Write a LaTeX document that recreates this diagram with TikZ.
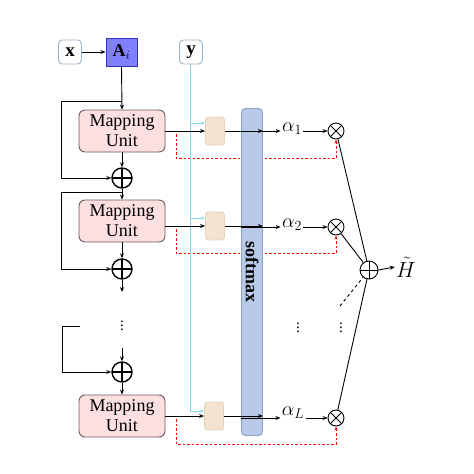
\RequirePackage{fix-cm}
\documentclass[tikz,border=0pt]{standalone}
\usepackage{fontspec}
\setmainfont{Liberation Serif}
\usetikzlibrary{arrows.meta,calc}
\definecolor{inborder}{HTML}{9FB4C8}
\definecolor{afill}{HTML}{8080FF}
\definecolor{aborder}{HTML}{3030C0}
\definecolor{mufill}{HTML}{FCE0E1}
\definecolor{muborder}{HTML}{6A5A5A}
\definecolor{sfill}{HTML}{F3E4D2}
\definecolor{sborder}{HTML}{E6D3BA}
\definecolor{smfill}{HTML}{B8CAE8}
\definecolor{smborder}{HTML}{8AA0C4}
\definecolor{cyanline}{HTML}{86D8EA}
\begin{document}
\begin{tikzpicture}[x=1pt,y=-1pt,
  font=\fontsize{17}{19}\selectfont,
  line width=0.9pt,
  arr/.style={-{Stealth[length=5pt,width=4pt]}},
  inbox/.style={draw=inborder,fill=white,rounded corners=4pt,minimum width=23pt,minimum height=24pt,inner sep=0pt,font=\bfseries\fontsize{19}{21}\selectfont},
  abox/.style={draw=aborder,fill=afill,minimum width=31pt,minimum height=28pt,inner sep=0pt,font=\bfseries\fontsize{18}{20}\selectfont},
  mu/.style={draw=muborder,fill=mufill,rounded corners=6pt,minimum width=86pt,minimum height=42pt,align=center,inner sep=0pt,font=\fontsize{18}{20}\selectfont},
  opl/.style={draw,circle,line width=1.4pt,minimum size=20pt,inner sep=0pt,
    path picture={\draw[line width=1.4pt] (path picture bounding box.north) -- (path picture bounding box.south) (path picture bounding box.west) -- (path picture bounding box.east);}},
  otm/.style={draw,circle,line width=0.9pt,minimum size=16pt,inner sep=0pt,
    path picture={\draw[line width=0.9pt] (path picture bounding box.north west) -- (path picture bounding box.south east) (path picture bounding box.north east) -- (path picture bounding box.south west);}},
  sumc/.style={draw,circle,line width=0.9pt,minimum size=18pt,inner sep=0pt,
    path picture={\draw[line width=0.9pt] (path picture bounding box.north) -- (path picture bounding box.south) (path picture bounding box.west) -- (path picture bounding box.east);}},
  sbox/.style={draw=sborder,fill=sfill,rounded corners=3pt,minimum width=19pt,minimum height=28pt,inner sep=0pt},
  smbox/.style={draw=smborder,fill=smfill,rounded corners=4pt,minimum width=327pt,minimum height=21pt,inner sep=0pt,rotate=-90,font=\bfseries\fontsize{18}{20}\selectfont},
  reddash/.style={draw=red,dash pattern=on 2.5pt off 2pt,line width=0.7pt,-{Stealth[length=4pt,width=3pt]}},
  cyanarr/.style={draw=cyanline,line width=0.9pt,-{Stealth[length=4pt,width=3pt]}},
  dotsn/.style={inner sep=0pt,font=\fontsize{15}{15}\selectfont},
  alab/.style={inner sep=1pt,font=\fontsize{20}{22}\selectfont}
]
\useasboundingbox (0,0) rectangle (474,474);

% inputs
\node[inbox] (x) at (70,52) {x};
\node[abox] (A) at (121.5,52) {A$_i$};
\node[inbox] (y) at (191,52) {y};

% left column
\node[mu] (m1) at (122,131) {Mapping\\Unit};
\node[opl] (p1) at (122,178) {};
\node[mu] (m2) at (122,221) {Mapping\\Unit};
\node[opl] (p2) at (122,269) {};
\node[dotsn] (d1) at (122,323) {$\vdots$};
\node[opl] (p3) at (122,372) {};
\node[mu] (m3) at (122,416) {Mapping\\Unit};

\coordinate (j1) at (122,101);
\coordinate (l1) at (61,101);
\coordinate (j2) at (122,192);
\coordinate (l2) at (61,192);
\coordinate (e2) at (122,292);
\coordinate (b1) at (80,326);
\coordinate (b2) at (62,326);
\coordinate (t3) at (122,348);

\draw[arr] (x) -- (A);
\draw[arr] (A.south) -- (m1.north);
\draw[arr] (j1) -- (l1) |- (p1.west);
\draw[arr] (m1.south) -- (p1.north);
\draw[arr] (p1.south) -- (m2.north);
\draw[arr] (j2) -- (l2) |- (p2.west);
\draw[arr] (m2.south) -- (p2.north);
\draw[arr] (p2.south) -- (e2);
\draw[arr] (b1) -- (b2) |- (p3.west);
\draw[arr] (t3) -- (p3.north);
\draw[arr] (p3.south) -- (m3.north);

% small boxes
\node[sbox] (s1) at (215,131) {};
\node[sbox] (s2) at (215,226) {};
\node[sbox] (s3) at (214,416) {};

% multiplication, labels
\node[alab] (a1) at (292,129) {$\alpha_1$};
\node[alab] (a2) at (292,225) {$\alpha_2$};
\node[alab] (aL) at (293,413) {$\alpha_L$};
\node[otm] (t1) at (336,131) {};
\node[otm] (t2) at (336,227) {};
\node[otm] (tL) at (336,418) {};
\node[sumc] (S) at (369,270) {};
\node[inner sep=1pt,font=\fontsize{22}{24}\selectfont] (H) at (406,267) {$\tilde{H}$};
\node[dotsn] (d2) at (298,325) {$\vdots$};
\node[dotsn] (d3) at (341,325) {$\vdots$};
\coordinate (dl) at (340,306);

% red dashed feedback
\coordinate (r1) at (176,134);
\coordinate (r1b) at (176,158);
\coordinate (r2) at (176,229);
\coordinate (r2b) at (176,253);
\coordinate (r3) at (176,419);
\coordinate (r3b) at (176,444);
\draw[reddash] (r1) -- (r1b) -| (t1.south);
\draw[reddash] (r2) -- (r2b) -| (t2.south);
\draw[reddash] (r3) -- (r3b) -| (tL.south);

% softmax
\node[smbox] (sm) at (252,272) {softmax};

% cyan
\coordinate (c1) at (190,123);
\coordinate (c2) at (190,218);
\draw[cyanarr] (y.south -| c1) |- ($(s3.west)+(0,-5)$);
\draw[cyanarr] (c1) -- (c1 -| s1.west);
\draw[cyanarr] (c2) -- (c2 -| s2.west);

% black row arrows
\draw[arr] (m1.east |- s1) -- (s1.west);
\draw[arr] (m2.east |- s2) -- (s2.west);
\draw[arr] (m3.east |- s3) -- (s3.west);
\draw[arr] (s1.east) -- (s1 -| sm.north);
\draw[arr] (s2.east) -- (s2 -| sm.north);
\draw[arr] (s3.east) -- (s3 -| sm.north);
\draw[arr] (t1 -| sm.south) -- (t1 -| a1.west);
\draw[arr] (t2 -| sm.south) -- (t2 -| a2.west);
\draw[arr] (tL -| sm.south) -- (tL -| aL.west);
\draw[arr] (t1 -| a1.east) -- (t1.west);
\draw[arr] (t2 -| a2.east) -- (t2.west);
\draw[arr] (tL -| aL.east) -- (tL.west);

% sums
\draw (t1) -- (S);
\draw (t2) -- (S);
\draw (tL) -- (S);
\draw[dashed] (dl) -- (S);
\draw[arr] (S.east) -- (H.west);
\end{tikzpicture}
\end{document}
